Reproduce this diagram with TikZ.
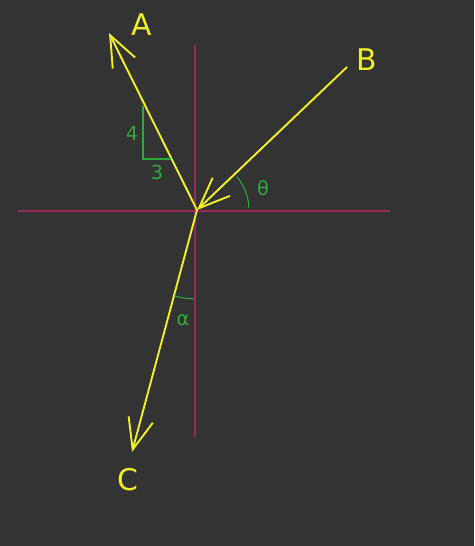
\documentclass[tikz,border=0pt]{standalone}
\usepackage{fontspec}
\setmainfont{DejaVu Sans}
\usepackage{tikz}
\usetikzlibrary{arrows.meta,positioning}
\definecolor{bgdark}{RGB}{51,51,51}
\definecolor{axiscol}{RGB}{150,40,90}
\definecolor{rayyel}{RGB}{238,238,40}
\definecolor{notegreen}{RGB}{45,170,60}

\tikzset{
    axis/.style={draw=axiscol, line width=0.8pt},
    ray/.style={draw=rayyel, line width=1.1pt, -{Straight Barb[length=0.62cm,width=0.5cm,line width=1.1pt]}},
    raylabel/.style={text=rayyel, font=\fontsize{17}{17}\selectfont},
    note/.style={draw=notegreen, line width=0.6pt},
    notelabel/.style={text=notegreen, font=\fontsize{11}{11}\selectfont}
}

\begin{document}
\begin{tikzpicture}[x=0.02cm, y=-0.02cm]
    \fill[bgdark] (0,0) rectangle (474,546);
    \useasboundingbox (0,0) rectangle (474,546);

    % axes
    \coordinate (xl) at (18,211);
    \coordinate (xr) at (390,211);
    \coordinate (yt) at (195,45);
    \coordinate (yb) at (195,437);
    \draw[axis] (xl) -- (xr);
    \draw[axis] (yt) -- (yb);

    % rays
    \coordinate (origin) at (197,210);
    \coordinate (tipA) at (109,33);
    \coordinate (startB) at (347,67);
    \coordinate (tipC) at (132,452);
    \draw[ray] (origin) -- (tipA);
    \draw[ray] (startB) -- (origin);
    \draw[ray] (origin) -- (tipC);

    \node[raylabel] (labA) at (142,25) {A};
    \node[raylabel] (labB) at (367,60) {B};
    \node[raylabel] (labC) at (128,480) {C};

    % slope triangle
    \coordinate (triT) at (143,106);
    \coordinate (triC) at (143,159);
    \coordinate (triR) at (171,159);
    \draw[note] (triT) -- (triC) -- (triR);
    \node[notelabel] (rise) at (132,133) {4};
    \node[notelabel] (run) at (157,172) {3};

    % angles
    \draw[note] ([shift={(2:1.04cm)}]origin) arc[start angle=2, end angle=40, radius=1.04cm];
    \node[notelabel] (theta) at (263,188) {θ};
    \draw[note] ([shift={(256:1.78cm)}]origin) arc[start angle=256, end angle=268, radius=1.78cm];
    \node[notelabel] (alpha) at (183,320) {α};
\end{tikzpicture}
\end{document}
